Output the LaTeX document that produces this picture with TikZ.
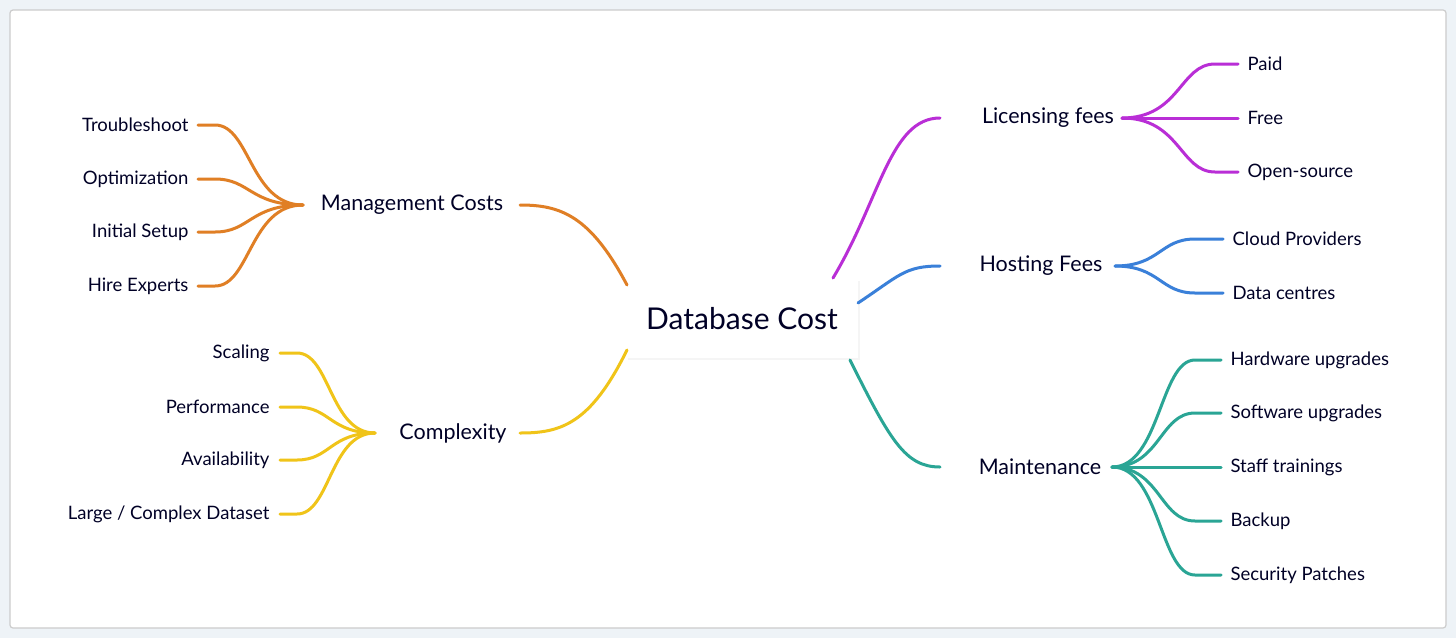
\documentclass[tikz,border=0pt]{standalone}
\usepackage{fontspec}
\setmainfont{Lato}
\begin{document}
\begin{tikzpicture}[x=1pt,y=-1pt,
 br/.style={font=\fontsize{21.5}{24}\selectfont,text=black!85!blue},
 lf/.style={font=\fontsize{18.5}{20}\selectfont,text=black!85!blue},
 ln/.style={line width=3pt,line cap=round}]
\definecolor{cO}{HTML}{E07F25}\definecolor{cY}{HTML}{F0C419}
\definecolor{cM}{HTML}{B92ED6}\definecolor{cB}{HTML}{3A80D9}
\definecolor{cT}{HTML}{2AA595}\definecolor{bg}{HTML}{EEF3F7}
\fill[bg] (0,0) rectangle (1456,638);
\useasboundingbox (0,0) rectangle (1456,638);
\draw[fill=white,draw=black!20,line width=1.2pt,rounded corners=3pt] (10,10) rectangle (1446,628);
\fill[black!4] (628,281) rectangle (860,360);
\node[fill=white,minimum width=231,minimum height=78,font=\fontsize{30}{32}\selectfont,text=black!85!blue] (c) at (742,319) {Database Cost};
% branches
\node[br] (mc) at (412,205) {Management Costs};
\node[br] (cx) at (453,433) {Complexity};
\node[br] (lic) at (1048,118) {Licensing fees};
\node[br] (hf) at (1041,266) {Hosting Fees};
\node[br] (mt) at (1040,467) {Maintenance};
\coordinate (c1) at (627,285);\coordinate (c2) at (627,350);
\coordinate (c3) at (833,278);\coordinate (c4) at (858,303);\coordinate (c5) at (850,360);
\draw[ln,cO] (c1) .. controls (590,215) and (560,205) .. (520,205);
\draw[ln,cY] (c2) .. controls (590,425) and (560,433) .. (520,433);
\draw[ln,cM] (c3) .. controls (880,200) and (890,118) .. (940,118);
\draw[ln,cB] (c4) .. controls (900,275) and (905,266) .. (940,266);
\draw[ln,cT] (c5) .. controls (890,440) and (905,467) .. (940,467);
\coordinate (fo) at (303,205);\coordinate (fy) at (375,433);
\coordinate (fm) at (1122,118);\coordinate (fb) at (1115,266);\coordinate (ft) at (1112,467);
\foreach \t/\y [count=\i] in {Troubleshoot/125,Optimization/179,Initial Setup/232,Hire Experts/286}{
 \node[lf,anchor=east] (o\i) at (192,\y) {\t};
 \draw[ln,cO] (fo) .. controls (250,205) and (250,\y) .. (215,\y) -- (198,\y);}
\foreach \t/\y [count=\i] in {Scaling/353,Performance/407,Availability/460,{Large / Complex Dataset}/514}{
 \node[lf,anchor=east] (y\i) at (273,\y) {\t};
 \draw[ln,cY] (fy) .. controls (330,433) and (330,\y) .. (297,\y) -- (280,\y);}
\foreach \t/\y [count=\i] in {Paid/64,Free/118,Open-source/172}{
 \node[lf,anchor=west] (m\i) at (1244,\y) {\t};
 \draw[ln,cM] (fm) .. controls (1180,118) and (1180,\y) .. (1215,\y) -- (1238,\y);}
\foreach \t/\y [count=\i] in {Cloud Providers/239,Data centres/293}{
 \node[lf,anchor=west] (b\i) at (1229,\y) {\t};
 \draw[ln,cB] (fb) .. controls (1160,266) and (1160,\y) .. (1195,\y) -- (1223,\y);}
\foreach \t/\y [count=\i] in {Hardware upgrades/360,Software upgrades/413,Staff trainings/467,Backup/521,Security Patches/575}{
 \node[lf,anchor=west] (t\i) at (1227,\y) {\t};
 \draw[ln,cT] (ft) .. controls (1160,467) and (1160,\y) .. (1195,\y) -- (1221,\y);}
\end{tikzpicture}
\end{document}
